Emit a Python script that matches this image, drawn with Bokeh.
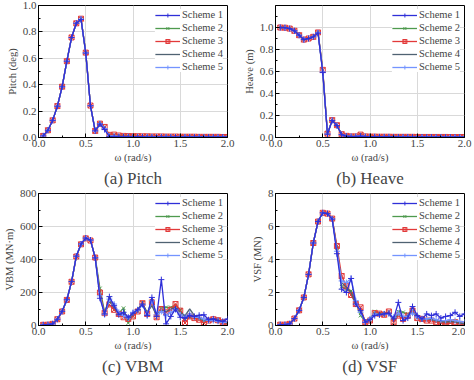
from bokeh.plotting import figure
from bokeh.layouts import gridplot
from bokeh.models import SingleIntervalTicker, PrintfTickFormatter, Range1d, Title
from bokeh.embed import file_html
from bokeh.resources import INLINE

OMEGA = [0.05, 0.10, 0.15, 0.20, 0.25, 0.30, 0.35, 0.40, 0.45, 0.50,
         0.55, 0.60, 0.65, 0.70, 0.75, 0.80, 0.85, 0.90, 0.95, 1.00,
         1.05, 1.10, 1.15, 1.20, 1.25, 1.30, 1.35, 1.40, 1.45, 1.50,
         1.55, 1.60, 1.65, 1.70, 1.75, 1.80, 1.85, 1.90, 1.95, 2.00]

SCHEMES = ["Scheme 1", "Scheme 2", "Scheme 3", "Scheme 4", "Scheme 5"]

# ---- Pitch (deg)
PITCH_S1 = [0.012, 0.055, 0.130, 0.237, 0.384, 0.578, 0.757, 0.866, 0.895, 0.640,
            0.240, 0.050, 0.102, 0.060, 0.006, 0.005, 0.005, 0.004, 0.004, 0.004,
            0.004, 0.004, 0.003, 0.003, 0.003, 0.003, 0.003, 0.003, 0.003, 0.003,
            0.003, 0.003, 0.003, 0.003, 0.003, 0.003, 0.003, 0.003, 0.003, 0.003]
PITCH_S2 = [0.012, 0.055, 0.130, 0.238, 0.385, 0.578, 0.758, 0.865, 0.900, 0.643,
            0.242, 0.050, 0.105, 0.078, 0.018, 0.020, 0.014, 0.012, 0.011, 0.010,
            0.010, 0.009, 0.009, 0.008, 0.008, 0.008, 0.007, 0.007, 0.007, 0.006,
            0.006, 0.006, 0.006, 0.005, 0.005, 0.005, 0.005, 0.005, 0.004, 0.004]
PITCH_S3 = [0.012, 0.055, 0.130, 0.238, 0.385, 0.578, 0.758, 0.865, 0.900, 0.643,
            0.242, 0.050, 0.105, 0.080, 0.020, 0.022, 0.015, 0.012, 0.011, 0.010,
            0.010, 0.009, 0.009, 0.008, 0.008, 0.008, 0.007, 0.007, 0.007, 0.006,
            0.006, 0.006, 0.006, 0.005, 0.005, 0.005, 0.005, 0.005, 0.004, 0.004]
PITCH_S4 = [0.012, 0.055, 0.130, 0.237, 0.384, 0.577, 0.757, 0.864, 0.898, 0.641,
            0.241, 0.050, 0.103, 0.070, 0.012, 0.012, 0.010, 0.008, 0.008, 0.007,
            0.007, 0.006, 0.006, 0.006, 0.005, 0.005, 0.005, 0.005, 0.005, 0.004,
            0.004, 0.004, 0.004, 0.004, 0.004, 0.004, 0.004, 0.004, 0.003, 0.003]
PITCH_S5 = [0.012, 0.055, 0.130, 0.237, 0.384, 0.578, 0.757, 0.866, 0.897, 0.641,
            0.241, 0.050, 0.104, 0.068, 0.010, 0.010, 0.008, 0.007, 0.007, 0.006,
            0.006, 0.006, 0.005, 0.005, 0.005, 0.005, 0.005, 0.004, 0.004, 0.004,
            0.004, 0.004, 0.004, 0.004, 0.004, 0.003, 0.003, 0.003, 0.003, 0.003]

# ---- Heave (m)
HEAVE_S1 = [1.000, 0.998, 0.990, 0.970, 0.930, 0.890, 0.900, 0.915, 0.950, 0.590,
            0.030, 0.155, 0.108, 0.025, 0.012, 0.008, 0.008, 0.012, 0.007, 0.006,
            0.006, 0.005, 0.005, 0.005, 0.005, 0.004, 0.004, 0.004, 0.004, 0.004,
            0.004, 0.004, 0.003, 0.003, 0.003, 0.003, 0.003, 0.003, 0.003, 0.003]
HEAVE_S2 = [1.000, 0.998, 0.990, 0.970, 0.930, 0.890, 0.900, 0.915, 0.955, 0.612,
            0.035, 0.158, 0.112, 0.030, 0.015, 0.010, 0.010, 0.025, 0.010, 0.008,
            0.008, 0.007, 0.007, 0.007, 0.006, 0.006, 0.006, 0.006, 0.006, 0.005,
            0.005, 0.005, 0.005, 0.005, 0.005, 0.005, 0.004, 0.004, 0.004, 0.004]
HEAVE_S3 = [1.000, 0.998, 0.990, 0.970, 0.930, 0.890, 0.900, 0.915, 0.955, 0.615,
            0.035, 0.158, 0.112, 0.030, 0.015, 0.010, 0.010, 0.026, 0.010, 0.008,
            0.008, 0.007, 0.007, 0.007, 0.006, 0.006, 0.006, 0.006, 0.006, 0.005,
            0.005, 0.005, 0.005, 0.005, 0.005, 0.005, 0.004, 0.004, 0.004, 0.004]
HEAVE_S4 = [1.000, 0.998, 0.990, 0.970, 0.930, 0.890, 0.900, 0.915, 0.953, 0.600,
            0.033, 0.157, 0.110, 0.028, 0.013, 0.009, 0.009, 0.018, 0.008, 0.007,
            0.007, 0.006, 0.006, 0.006, 0.005, 0.005, 0.005, 0.005, 0.005, 0.005,
            0.004, 0.004, 0.004, 0.004, 0.004, 0.004, 0.004, 0.004, 0.003, 0.003]
HEAVE_S5 = [1.000, 0.998, 0.990, 0.970, 0.930, 0.890, 0.900, 0.915, 0.952, 0.598,
            0.032, 0.156, 0.109, 0.027, 0.013, 0.009, 0.009, 0.016, 0.008, 0.007,
            0.007, 0.006, 0.006, 0.006, 0.005, 0.005, 0.005, 0.005, 0.005, 0.004,
            0.004, 0.004, 0.004, 0.004, 0.004, 0.004, 0.003, 0.003, 0.003, 0.003]

# ---- VBM (MN·m)
VBM_S1 = [4, 5, 10, 38, 86, 156, 266, 420, 494, 530,
          518, 410, 165, 70, 175, 120, 65, 80, 50, 75,
          95, 130, 60, 170, 55, 278, 10, 55, 100, 50,
          45, 60, 55, 62, 65, 35, 40, 30, 25, 40]
VBM_S2 = [4, 5, 10, 38, 85, 155, 265, 418, 492, 528,
          516, 414, 225, 80, 165, 95, 75, 105, 15, 60,
          90, 138, 75, 150, 60, 105, 110, 110, 120, 95,
          40, 50, 50, 40, 25, 35, 35, 35, 25, 15]
VBM_S3 = [4, 5, 10, 38, 85, 155, 265, 418, 492, 528,
          515, 412, 200, 75, 128, 95, 70, 50, 40, 55,
          85, 135, 70, 140, 50, 100, 80, 95, 130, 90,
          15, 55, 45, 35, 15, 30, 38, 32, 20, 10]
VBM_S4 = [4, 5, 10, 38, 85, 155, 265, 419, 493, 529,
          517, 411, 190, 70, 150, 110, 70, 70, 35, 70,
          100, 130, 80, 120, 60, 90, 85, 100, 110, 80,
          60, 100, 60, 45, 30, 35, 40, 30, 20, 15]
VBM_S5 = [4, 5, 10, 38, 86, 156, 266, 420, 494, 530,
          518, 410, 180, 65, 160, 130, 80, 60, 45, 80,
          90, 125, 65, 150, 65, 85, 60, 80, 95, 65,
          50, 70, 50, 50, 40, 30, 30, 25, 20, 20]

# ---- VSF (MN)
VSF_S1 = [0.05, 0.05, 0.10, 0.42, 0.92, 1.70, 3.10, 5.00, 6.30, 6.83,
          6.78, 6.45, 4.35, 2.20, 2.00, 2.85, 1.30, 0.90, 0.20, 0.35,
          0.60, 0.65, 0.70, 0.75, 0.40, 1.40, 0.30, 0.45, 1.15, 0.60,
          0.40, 0.70, 0.60, 0.70, 0.45, 0.55, 0.60, 0.80, 0.55, 0.70]
VSF_S2 = [0.05, 0.05, 0.10, 0.42, 0.92, 1.70, 3.10, 5.00, 6.30, 6.83,
          6.78, 6.48, 4.70, 2.35, 2.20, 2.10, 1.40, 0.60, 0.25, 0.35,
          0.85, 0.75, 0.70, 0.80, 0.35, 0.85, 0.80, 0.70, 0.85, 0.55,
          0.30, 0.35, 0.35, 0.25, 0.20, 0.15, 0.20, 0.25, 0.15, 0.10]
VSF_S3 = [0.05, 0.05, 0.10, 0.42, 0.92, 1.70, 3.10, 5.00, 6.30, 6.83,
          6.78, 6.48, 4.82, 3.00, 2.38, 1.85, 1.30, 1.10, 0.20, 0.30,
          0.75, 0.72, 0.65, 0.85, 0.20, 0.60, 0.40, 0.60, 0.90, 0.45,
          0.40, 0.30, 0.30, 0.20, 0.15, 0.10, 0.15, 0.20, 0.10, 0.05]
VSF_S4 = [0.05, 0.05, 0.10, 0.42, 0.92, 1.70, 3.10, 5.00, 6.30, 6.83,
          6.78, 6.47, 4.60, 2.60, 2.30, 2.00, 1.30, 0.90, 0.25, 0.40,
          0.70, 0.70, 0.75, 0.70, 0.35, 0.70, 0.50, 0.60, 0.80, 0.50,
          0.45, 0.40, 0.35, 0.30, 0.25, 0.20, 0.25, 0.20, 0.15, 0.10]
VSF_S5 = [0.05, 0.05, 0.10, 0.42, 0.92, 1.70, 3.10, 5.00, 6.30, 6.83,
          6.78, 6.46, 4.50, 2.70, 2.60, 2.85, 1.50, 0.80, 0.20, 0.40,
          0.70, 0.65, 0.70, 0.70, 0.50, 0.75, 0.55, 0.55, 0.75, 0.50,
          0.40, 0.40, 0.45, 0.35, 0.30, 0.30, 0.35, 0.30, 0.25, 0.20]

COLORS = ["#2f2fd8", "#4e9a4e", "#e23a3a", "#4f6272", "#7494ff"]
MARKERS = ["cross", "x", "square_x", None, "cross"]
MSIZES = [6, 5, 5, 0, 6]
DRAW_ORDER = [1, 2, 3, 4, 0]
FONT = "Liberation Serif"


def style_axis(ax):
    ax.major_tick_in = 4
    ax.major_tick_out = 0
    ax.minor_tick_in = 2
    ax.minor_tick_out = 0
    ax.axis_line_color = "black"
    ax.major_tick_line_color = "black"
    ax.minor_tick_line_color = "black"
    ax.major_label_text_font = FONT
    ax.major_label_text_font_size = "11px"
    ax.major_label_standoff = 2
    ax.axis_label_text_font = FONT
    ax.axis_label_text_font_size = "10.5px"
    ax.axis_label_text_font_style = "normal"
    ax.axis_label_standoff = 2


def panel(series, ylabel, ymax, yint, fmt, caption, border_right):
    p = figure(frame_width=189, frame_height=132,
               x_range=Range1d(0, 2), y_range=Range1d(0, ymax),
               output_backend="svg", toolbar_location=None,
               min_border_left=10, min_border_right=border_right,
               min_border_top=5, min_border_bottom=0)
    p.outline_line_color = "black"
    p.outline_line_alpha = 1
    xt = SingleIntervalTicker(interval=0.5, num_minor_ticks=2)
    yt = SingleIntervalTicker(interval=yint, num_minor_ticks=2)
    p.xaxis.ticker = xt
    p.yaxis.ticker = yt
    p.xaxis.formatter = PrintfTickFormatter(format="%.1f")
    p.yaxis.formatter = PrintfTickFormatter(format=fmt)
    p.xaxis.axis_label = "ω (rad/s)"
    p.yaxis.axis_label = ylabel
    style_axis(p.xaxis[0])
    style_axis(p.yaxis[0])
    p.xgrid.ticker = xt
    p.ygrid.ticker = yt
    p.xgrid.grid_line_color = "#d9d9d9"
    p.ygrid.grid_line_color = "#d9d9d9"

    for i in DRAW_ORDER:
        ys = series[i]
        p.line(OMEGA, ys, line_color=COLORS[i], line_width=1.3, legend_label=SCHEMES[i])
        if MARKERS[i]:
            p.scatter(OMEGA, ys, marker=MARKERS[i], size=MSIZES[i], line_color=COLORS[i],
                      fill_color=None, line_width=1.0, legend_label=SCHEMES[i])

    lg = p.legend[0]
    items = list(lg.items)
    items.sort(key=lambda it: it.label["value"])
    lg.items = items
    lg.location = "top_right"
    lg.background_fill_color = "white"
    lg.background_fill_alpha = 1
    lg.border_line_color = None
    lg.label_text_font = FONT
    lg.label_text_font_size = "10.5px"
    lg.glyph_width = 25
    lg.glyph_height = 10
    lg.label_height = 10
    lg.label_standoff = 2
    lg.spacing = 2
    lg.padding = 2
    lg.margin = 4

    p.add_layout(Title(text=caption, align="center", text_font=FONT,
                       text_font_size="17px", text_font_style="normal",
                       standoff=2), "below")
    return p


pa = panel([PITCH_S1, PITCH_S2, PITCH_S3, PITCH_S4, PITCH_S5],
           "Pitch (deg)", 1.0, 0.2, "%.1f", "(a) Pitch", 13)
pb = panel([HEAVE_S1, HEAVE_S2, HEAVE_S3, HEAVE_S4, HEAVE_S5],
           "Heave (m)", 1.2, 0.2, "%.1f", "(b) Heave", 9)
pc = panel([VBM_S1, VBM_S2, VBM_S3, VBM_S4, VBM_S5],
           "VBM (MN·m)", 800, 200, "%d", "(c) VBM", 13)
pd = panel([VSF_S1, VSF_S2, VSF_S3, VSF_S4, VSF_S5],
           "VSF (MN)", 8, 2, "%d", "(d) VSF", 9)

grid = gridplot([[pa, pb], [pc, pd]], toolbar_location=None)

open("out.html", "w").write(file_html(grid, INLINE))
